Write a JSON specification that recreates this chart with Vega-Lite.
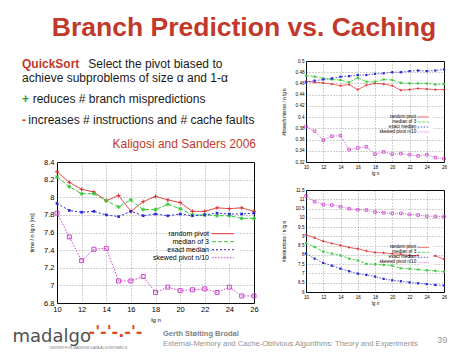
{
"$schema":"https://vega.github.io/schema/vega-lite/v6.json",
"padding":{"left":12,"top":15,"right":2,"bottom":2},
"background":"white",
"title":{"text":"Branch Prediction vs. Caching","anchor":"middle","font":"Liberation Sans","fontSize":26.5,"fontWeight":"bold","color":"#c0392b","offset":16,"dx":14},
"datasets":{
"txt":[
{"line":1,"k":"head","t":"QuickSort"},
{"line":1,"k":"b1","t":"Select the pivot biased to"},
{"line":2,"k":"b2","t":"achieve subproblems of size α and 1-α"},
{"line":3,"k":"plus","t":"+"},
{"line":3,"k":"b3","t":"reduces # branch mispredictions"},
{"line":4,"k":"minus","t":"-"},
{"line":4,"k":"b4","t":"increases # instructions and # cache faults"},
{"line":5,"k":"ref","t":"Kaligosi and Sanders 2006"}
],
"foot":[
{"k":"logo","t":"madalgo"},
{"k":"dash","t":"-'-'-.-'-"},
{"k":"small","t":"CENTER FOR MASSIVE DATA ALGORITHMICS"},
{"k":"name","t":"Gerth Stølting Brodal"},
{"k":"course","t":"External-Memory and Cache-Oblivious Algorithms: Theory and Experiments"},
{"k":"page","t":"39"}
],
"time":[
{"n":10,"s":"random pivot","v":8.29},{"n":11,"s":"random pivot","v":8.17},{"n":12,"s":"random pivot","v":8.09},{"n":13,"s":"random pivot","v":8.06},{"n":14,"s":"random pivot","v":7.96},{"n":15,"s":"random pivot","v":8.02},{"n":16,"s":"random pivot","v":7.84},{"n":17,"s":"random pivot","v":7.95},{"n":18,"s":"random pivot","v":8.01},{"n":19,"s":"random pivot","v":7.97},{"n":20,"s":"random pivot","v":7.94},{"n":21,"s":"random pivot","v":7.84},{"n":22,"s":"random pivot","v":7.84},{"n":23,"s":"random pivot","v":7.88},{"n":24,"s":"random pivot","v":7.87},{"n":25,"s":"random pivot","v":7.88},{"n":26,"s":"random pivot","v":7.84},
{"n":10,"s":"median of 3","v":8.23},{"n":11,"s":"median of 3","v":8.12},{"n":12,"s":"median of 3","v":8.04},{"n":13,"s":"median of 3","v":8.04},{"n":14,"s":"median of 3","v":7.96},{"n":15,"s":"median of 3","v":7.89},{"n":16,"s":"median of 3","v":7.97},{"n":17,"s":"median of 3","v":7.86},{"n":18,"s":"median of 3","v":7.86},{"n":19,"s":"median of 3","v":7.92},{"n":20,"s":"median of 3","v":7.87},{"n":21,"s":"median of 3","v":7.80},{"n":22,"s":"median of 3","v":7.80},{"n":23,"s":"median of 3","v":7.79},{"n":24,"s":"median of 3","v":7.79},{"n":25,"s":"median of 3","v":7.76},{"n":26,"s":"median of 3","v":7.76},
{"n":10,"s":"exact median","v":7.93},{"n":11,"s":"exact median","v":7.85},{"n":12,"s":"exact median","v":7.83},{"n":13,"s":"exact median","v":7.84},{"n":14,"s":"exact median","v":7.80},{"n":15,"s":"exact median","v":7.78},{"n":16,"s":"exact median","v":7.84},{"n":17,"s":"exact median","v":7.79},{"n":18,"s":"exact median","v":7.81},{"n":19,"s":"exact median","v":7.79},{"n":20,"s":"exact median","v":7.81},{"n":21,"s":"exact median","v":7.79},{"n":22,"s":"exact median","v":7.80},{"n":23,"s":"exact median","v":7.82},{"n":24,"s":"exact median","v":7.81},{"n":25,"s":"exact median","v":7.81},{"n":26,"s":"exact median","v":7.82},
{"n":10,"s":"skewed pivot n/10","v":7.82},{"n":11,"s":"skewed pivot n/10","v":7.55},{"n":12,"s":"skewed pivot n/10","v":7.28},{"n":13,"s":"skewed pivot n/10","v":7.41},{"n":14,"s":"skewed pivot n/10","v":7.42},{"n":15,"s":"skewed pivot n/10","v":7.05},{"n":16,"s":"skewed pivot n/10","v":7.05},{"n":17,"s":"skewed pivot n/10","v":7.10},{"n":18,"s":"skewed pivot n/10","v":6.92},{"n":19,"s":"skewed pivot n/10","v":6.98},{"n":20,"s":"skewed pivot n/10","v":6.94},{"n":21,"s":"skewed pivot n/10","v":6.95},{"n":22,"s":"skewed pivot n/10","v":6.96},{"n":23,"s":"skewed pivot n/10","v":6.92},{"n":24,"s":"skewed pivot n/10","v":6.98},{"n":25,"s":"skewed pivot n/10","v":6.88},{"n":26,"s":"skewed pivot n/10","v":6.88}
],
"branch":[
{"n":10,"s":"random pivot","v":0.464},{"n":11,"s":"random pivot","v":0.462},{"n":12,"s":"random pivot","v":0.461},{"n":13,"s":"random pivot","v":0.459},{"n":14,"s":"random pivot","v":0.456},{"n":15,"s":"random pivot","v":0.458},{"n":16,"s":"random pivot","v":0.449},{"n":17,"s":"random pivot","v":0.457},{"n":18,"s":"random pivot","v":0.460},{"n":19,"s":"random pivot","v":0.459},{"n":20,"s":"random pivot","v":0.456},{"n":21,"s":"random pivot","v":0.448},{"n":22,"s":"random pivot","v":0.449},{"n":23,"s":"random pivot","v":0.451},{"n":24,"s":"random pivot","v":0.450},{"n":25,"s":"random pivot","v":0.449},{"n":26,"s":"random pivot","v":0.449},
{"n":10,"s":"median of 3","v":0.474},{"n":11,"s":"median of 3","v":0.472},{"n":12,"s":"median of 3","v":0.469},{"n":13,"s":"median of 3","v":0.467},{"n":14,"s":"median of 3","v":0.466},{"n":15,"s":"median of 3","v":0.462},{"n":16,"s":"median of 3","v":0.470},{"n":17,"s":"median of 3","v":0.463},{"n":18,"s":"median of 3","v":0.463},{"n":19,"s":"median of 3","v":0.467},{"n":20,"s":"median of 3","v":0.466},{"n":21,"s":"median of 3","v":0.461},{"n":22,"s":"median of 3","v":0.460},{"n":23,"s":"median of 3","v":0.460},{"n":24,"s":"median of 3","v":0.460},{"n":25,"s":"median of 3","v":0.458},{"n":26,"s":"median of 3","v":0.459},
{"n":10,"s":"exact median","v":0.462},{"n":11,"s":"exact median","v":0.465},{"n":12,"s":"exact median","v":0.467},{"n":13,"s":"exact median","v":0.469},{"n":14,"s":"exact median","v":0.472},{"n":15,"s":"exact median","v":0.473},{"n":16,"s":"exact median","v":0.475},{"n":17,"s":"exact median","v":0.475},{"n":18,"s":"exact median","v":0.477},{"n":19,"s":"exact median","v":0.478},{"n":20,"s":"exact median","v":0.480},{"n":21,"s":"exact median","v":0.480},{"n":22,"s":"exact median","v":0.482},{"n":23,"s":"exact median","v":0.483},{"n":24,"s":"exact median","v":0.482},{"n":25,"s":"exact median","v":0.483},{"n":26,"s":"exact median","v":0.485},
{"n":10,"s":"skewed pivot n/10","v":0.383},{"n":11,"s":"skewed pivot n/10","v":0.375},{"n":12,"s":"skewed pivot n/10","v":0.359},{"n":13,"s":"skewed pivot n/10","v":0.366},{"n":14,"s":"skewed pivot n/10","v":0.367},{"n":15,"s":"skewed pivot n/10","v":0.342},{"n":16,"s":"skewed pivot n/10","v":0.345},{"n":17,"s":"skewed pivot n/10","v":0.347},{"n":18,"s":"skewed pivot n/10","v":0.334},{"n":19,"s":"skewed pivot n/10","v":0.338},{"n":20,"s":"skewed pivot n/10","v":0.334},{"n":21,"s":"skewed pivot n/10","v":0.335},{"n":22,"s":"skewed pivot n/10","v":0.333},{"n":23,"s":"skewed pivot n/10","v":0.331},{"n":24,"s":"skewed pivot n/10","v":0.333},{"n":25,"s":"skewed pivot n/10","v":0.328},{"n":26,"s":"skewed pivot n/10","v":0.326}
],
"instr":[
{"n":10,"s":"random pivot","v":9.08},{"n":11,"s":"random pivot","v":8.92},{"n":12,"s":"random pivot","v":8.74},{"n":13,"s":"random pivot","v":8.62},{"n":14,"s":"random pivot","v":8.51},{"n":15,"s":"random pivot","v":8.40},{"n":16,"s":"random pivot","v":8.33},{"n":17,"s":"random pivot","v":8.22},{"n":18,"s":"random pivot","v":8.13},{"n":19,"s":"random pivot","v":8.11},{"n":20,"s":"random pivot","v":8.06},{"n":21,"s":"random pivot","v":8.04},{"n":22,"s":"random pivot","v":7.97},{"n":23,"s":"random pivot","v":7.97},{"n":24,"s":"random pivot","v":7.88},{"n":25,"s":"random pivot","v":7.95},{"n":26,"s":"random pivot","v":7.77},
{"n":10,"s":"median of 3","v":8.63},{"n":11,"s":"median of 3","v":8.43},{"n":12,"s":"median of 3","v":8.18},{"n":13,"s":"median of 3","v":8.07},{"n":14,"s":"median of 3","v":7.97},{"n":15,"s":"median of 3","v":7.80},{"n":16,"s":"median of 3","v":7.70},{"n":17,"s":"median of 3","v":7.52},{"n":18,"s":"median of 3","v":7.50},{"n":19,"s":"median of 3","v":7.46},{"n":20,"s":"median of 3","v":7.42},{"n":21,"s":"median of 3","v":7.28},{"n":22,"s":"median of 3","v":7.25},{"n":23,"s":"median of 3","v":7.21},{"n":24,"s":"median of 3","v":7.17},{"n":25,"s":"median of 3","v":7.14},{"n":26,"s":"median of 3","v":7.10},
{"n":10,"s":"exact median","v":8.07},{"n":11,"s":"exact median","v":7.80},{"n":12,"s":"exact median","v":7.57},{"n":13,"s":"exact median","v":7.42},{"n":14,"s":"exact median","v":7.26},{"n":15,"s":"exact median","v":7.12},{"n":16,"s":"exact median","v":6.99},{"n":17,"s":"exact median","v":6.92},{"n":18,"s":"exact median","v":6.83},{"n":19,"s":"exact median","v":6.71},{"n":20,"s":"exact median","v":6.63},{"n":21,"s":"exact median","v":6.58},{"n":22,"s":"exact median","v":6.52},{"n":23,"s":"exact median","v":6.47},{"n":24,"s":"exact median","v":6.43},{"n":25,"s":"exact median","v":6.38},{"n":26,"s":"exact median","v":6.35},
{"n":10,"s":"skewed pivot n/10","v":11.18},{"n":11,"s":"skewed pivot n/10","v":10.87},{"n":12,"s":"skewed pivot n/10","v":10.71},{"n":13,"s":"skewed pivot n/10","v":10.69},{"n":14,"s":"skewed pivot n/10","v":10.60},{"n":15,"s":"skewed pivot n/10","v":10.49},{"n":16,"s":"skewed pivot n/10","v":10.44},{"n":17,"s":"skewed pivot n/10","v":10.42},{"n":18,"s":"skewed pivot n/10","v":10.31},{"n":19,"s":"skewed pivot n/10","v":10.27},{"n":20,"s":"skewed pivot n/10","v":10.24},{"n":21,"s":"skewed pivot n/10","v":10.24},{"n":22,"s":"skewed pivot n/10","v":10.18},{"n":23,"s":"skewed pivot n/10","v":10.15},{"n":24,"s":"skewed pivot n/10","v":10.09},{"n":25,"s":"skewed pivot n/10","v":10.08},{"n":26,"s":"skewed pivot n/10","v":10.06}
]
},
"spacing":249,
"bounds":"flush",
"resolve":{"scale":{"color":"independent","strokeDash":"independent","shape":"independent","size":"independent"},"legend":{"color":"independent","strokeDash":"independent"}},
"hconcat":[
 {"vconcat":[
  {"width":197,"height":101,
   "layer":[
    {"data":{"name":"txt"},
     "encoding":{"y":{"field":"line","type":"quantitative","scale":{"domain":[1.0896,5.8538],"reverse":true,"nice":false,"zero":false},"axis":null},"text":{"field":"t"}},
     "layer":[
      {"transform":[{"filter":"datum.k==='head'"}],"mark":{"type":"text","align":"left","dx":-133.5,"dy":4.5,"font":"Liberation Sans","fontSize":12,"fontWeight":"bold","color":"#c0392b"}},
      {"transform":[{"filter":"datum.k==='b1'"}],"mark":{"type":"text","align":"left","dx":-67.2,"dy":4.5,"font":"Liberation Sans","fontSize":12,"color":"#1a1a1a"}},
      {"transform":[{"filter":"datum.k==='b2'"}],"mark":{"type":"text","align":"left","dx":-133.5,"dy":-2.5,"font":"Liberation Sans","fontSize":12,"color":"#1a1a1a"}},
      {"transform":[{"filter":"datum.k==='plus'"}],"mark":{"type":"text","align":"left","dx":-133.5,"dy":-2.5,"font":"Liberation Sans","fontSize":12,"fontWeight":"bold","color":"#2e9a3a"}},
      {"transform":[{"filter":"datum.k==='b3'"}],"mark":{"type":"text","align":"left","dx":-122.8,"dy":-2.5,"font":"Liberation Sans","fontSize":12,"color":"#1a1a1a"}},
      {"transform":[{"filter":"datum.k==='minus'"}],"mark":{"type":"text","align":"left","dx":-133.5,"dy":-2.5,"font":"Liberation Sans","fontSize":12,"fontWeight":"bold","color":"#c0392b"}},
      {"transform":[{"filter":"datum.k==='b4'"}],"mark":{"type":"text","align":"left","dx":-127.2,"dy":-2.5,"font":"Liberation Sans","fontSize":12,"color":"#1a1a1a"}},
      {"transform":[{"filter":"datum.k==='ref'"}],"mark":{"type":"text","align":"right","dx":100.5,"dy":0,"font":"Liberation Sans","fontSize":12,"color":"#c0392b"}}
     ]},
    {"data":{"name":"foot"},
     "encoding":{"text":{"field":"t"}},
     "layer":[
      {"transform":[{"filter":"datum.k==='logo'"}],"mark":{"type":"text","align":"left","dx":-143,"dy":225.5,"font":"DejaVu Sans","fontSize":18,"color":"#505050"}},
      {"transform":[{"filter":"datum.k==='dash'"}],"mark":{"type":"text","align":"left","dx":-67,"dy":220.5,"font":"DejaVu Sans","fontSize":16,"fontWeight":"bold","color":"#e04a1a"}},
      {"transform":[{"filter":"datum.k==='small'"}],"mark":{"type":"text","align":"left","dx":-106.5,"dy":236,"font":"Liberation Sans","fontSize":3.6,"color":"#777"}},
      {"transform":[{"filter":"datum.k==='name'"}],"mark":{"type":"text","align":"left","dx":7.5,"dy":222.5,"font":"Liberation Sans","fontSize":7.5,"fontWeight":"bold","color":"#808080"}},
      {"transform":[{"filter":"datum.k==='course'"}],"mark":{"type":"text","align":"left","dx":7.5,"dy":232,"font":"Liberation Sans","fontSize":7.6,"color":"#909090"}},
      {"transform":[{"filter":"datum.k==='page'"}],"mark":{"type":"text","align":"left","dx":281.5,"dy":228,"font":"Liberation Sans","fontSize":9.5,"color":"#999"}}
     ]}
   ]},
  {"width":197,"height":141,"data":{"name":"time"},
   "view":{"stroke":"#000","strokeWidth":1},
   "encoding":{
    "x":{"field":"n","type":"quantitative","scale":{"domain":[10,26],"nice":false,"zero":false},"axis":{"values":[10,12,14,16,18,20,22,24,26],"title":"lg n","labelFontSize":7.5,"labelPadding":2.5,"titleFontSize":6,"titlePadding":3,"labelFlush":false}},
    "y":{"field":"v","type":"quantitative","scale":{"domain":[6.8,8.4],"nice":false,"zero":false},"axis":{"values":[6.8,7,7.2,7.4,7.6,7.8,8,8.2,8.4],"format":"~g","title":"time / n lg n [ns]","labelFontSize":7.5,"labelPadding":3,"titleFontSize":5.5,"titlePadding":9}}
   },
   "layer":[
    {"mark":{"type":"line","strokeWidth":1},
     "encoding":{
      "color":{"field":"s","type":"nominal","scale":{"domain":["random pivot","median of 3","exact median","skewed pivot n/10"],"range":["#dd3030","#38c838","#2828d8","#cc44cc"]},
        "legend":{"orient":"none","direction":"vertical","legendX":160.5,"legendY":66.2,"title":null,"labelAlign":"right","labelOffset":-17.5,"symbolType":"M-4.4,0H4.4","symbolSize":25,"symbolStrokeWidth":1,"rowPadding":0,"labelFontSize":7,"labelFont":"Liberation Sans","labelColor":"#000","fillColor":"#fff","padding":2}},
      "strokeDash":{"field":"s","type":"nominal","scale":{"domain":["random pivot","median of 3","exact median","skewed pivot n/10"],"range":[[1,0],[4,2],[2,2],[1.5,1.5]]},
        "legend":{"orient":"none","direction":"vertical","legendX":160.5,"legendY":66.2,"title":null,"labelAlign":"right","labelOffset":-17.5,"symbolType":"M-4.4,0H4.4","symbolSize":25,"symbolStrokeWidth":1,"rowPadding":0,"labelFontSize":7,"labelFont":"Liberation Sans","labelColor":"#000","fillColor":"#fff","padding":2}}
     }},
    {"transform":[{"filter":"datum.s!=='exact median'"}],
     "mark":{"type":"point","filled":false,"strokeWidth":1,"opacity":1},
     "encoding":{
      "color":{"field":"s","type":"nominal","legend":null},
      "shape":{"field":"s","type":"nominal","scale":{"domain":["random pivot","median of 3","skewed pivot n/10"],"range":["M-1,0L1,0M0,-1L0,1","M-1,0L1,0M0,-1L0,1M-0.7,-0.7L0.7,0.7M-0.7,0.7L0.7,-0.7","square"]},"legend":null},
      "size":{"field":"s","type":"nominal","scale":{"domain":["random pivot","median of 3","skewed pivot n/10"],"range":[16,16,25]},"legend":null}
     }},
    {"transform":[{"filter":"datum.s==='exact median'"}],
     "mark":{"type":"point","filled":true,"shape":"square","size":7,"opacity":1},
     "encoding":{"color":{"field":"s","type":"nominal","legend":null}}}
   ]}
 ],"spacing":0,"bounds":"flush",
 "resolve":{"scale":{"color":"independent","strokeDash":"independent","shape":"independent","size":"independent"},"legend":{"color":"independent","strokeDash":"independent"}}},
 {"vconcat":[
  {"width":138,"height":101,"data":{"name":"branch"},
   "view":{"stroke":"#000","strokeWidth":1},
   "encoding":{
    "x":{"field":"n","type":"quantitative","scale":{"domain":[10,26],"nice":false,"zero":false},"axis":{"values":[10,12,14,16,18,20,22,24,26],"title":"lg n","labelFontSize":4.6,"labelPadding":2,"titleFontSize":4.6,"titlePadding":2,"labelFlush":false}},
    "y":{"field":"v","type":"quantitative","scale":{"domain":[0.32,0.5],"nice":false,"zero":false},"axis":{"values":[0.32,0.34,0.36,0.38,0.4,0.42,0.44,0.46,0.48,0.5],"format":"~g","title":"#branch misses / n lg n","labelFontSize":4.6,"labelPadding":2,"titleFontSize":4.6,"titlePadding":9}}
   },
   "layer":[
    {"mark":{"type":"line","strokeWidth":0.8},
     "encoding":{
      "color":{"field":"s","type":"nominal","scale":{"domain":["random pivot","median of 3","exact median","skewed pivot n/10"],"range":["#dd3030","#38c838","#2828d8","#cc44cc"]},
        "legend":{"orient":"none","direction":"vertical","legendX":113.1,"legendY":51.7,"title":null,"labelAlign":"right","labelOffset":-9.5,"symbolType":"M-4.16,0H4.16","symbolSize":7.5,"symbolStrokeWidth":0.8,"rowPadding":0,"labelFontSize":4.6,"labelFont":"Liberation Sans","labelColor":"#000","fillColor":"#fff","padding":2}},
      "strokeDash":{"field":"s","type":"nominal","scale":{"domain":["random pivot","median of 3","exact median","skewed pivot n/10"],"range":[[1,0],[3,1.5],[1.5,1.5],[1,1]]},
        "legend":{"orient":"none","direction":"vertical","legendX":113.1,"legendY":51.7,"title":null,"labelAlign":"right","labelOffset":-9.5,"symbolType":"M-4.16,0H4.16","symbolSize":7.5,"symbolStrokeWidth":0.8,"rowPadding":0,"labelFontSize":4.6,"labelFont":"Liberation Sans","labelColor":"#000","fillColor":"#fff","padding":2}}
     }},
    {"transform":[{"filter":"datum.s!=='exact median'"}],
     "mark":{"type":"point","filled":false,"strokeWidth":0.8,"opacity":1},
     "encoding":{
      "color":{"field":"s","type":"nominal","legend":null},
      "shape":{"field":"s","type":"nominal","scale":{"domain":["random pivot","median of 3","skewed pivot n/10"],"range":["M-1,0L1,0M0,-1L0,1","M-1,0L1,0M0,-1L0,1M-0.7,-0.7L0.7,0.7M-0.7,0.7L0.7,-0.7","square"]},"legend":null},
      "size":{"field":"s","type":"nominal","scale":{"domain":["random pivot","median of 3","skewed pivot n/10"],"range":[7,7,12]},"legend":null}
     }},
    {"transform":[{"filter":"datum.s==='exact median'"}],
     "mark":{"type":"point","filled":true,"shape":"square","size":5,"opacity":1},
     "encoding":{"color":{"field":"s","type":"nominal","legend":null}}}
   ]},
  {"width":138,"height":102,"data":{"name":"instr"},
   "view":{"stroke":"#000","strokeWidth":1},
   "encoding":{
    "x":{"field":"n","type":"quantitative","scale":{"domain":[10,26],"nice":false,"zero":false},"axis":{"values":[10,12,14,16,18,20,22,24,26],"title":"lg n","labelFontSize":4.6,"labelPadding":2,"titleFontSize":4.6,"titlePadding":2,"labelFlush":false}},
    "y":{"field":"v","type":"quantitative","scale":{"domain":[6,11.5],"nice":false,"zero":false},"axis":{"values":[6,6.5,7,7.5,8,8.5,9,9.5,10,10.5,11,11.5],"format":"~g","title":"#instructions / n lg n","labelFontSize":4.6,"labelPadding":2,"titleFontSize":4.6,"titlePadding":9}}
   },
   "layer":[
    {"mark":{"type":"line","strokeWidth":0.8},
     "encoding":{
      "color":{"field":"s","type":"nominal","scale":{"domain":["random pivot","median of 3","exact median","skewed pivot n/10"],"range":["#dd3030","#38c838","#2828d8","#cc44cc"]},
        "legend":{"orient":"none","direction":"vertical","legendX":113.1,"legendY":53,"title":null,"labelAlign":"right","labelOffset":-9.5,"symbolType":"M-4.16,0H4.16","symbolSize":7.5,"symbolStrokeWidth":0.8,"rowPadding":0,"labelFontSize":4.6,"labelFont":"Liberation Sans","labelColor":"#000","fillColor":"#fff","padding":2}},
      "strokeDash":{"field":"s","type":"nominal","scale":{"domain":["random pivot","median of 3","exact median","skewed pivot n/10"],"range":[[1,0],[3,1.5],[1.5,1.5],[1,1]]},
        "legend":{"orient":"none","direction":"vertical","legendX":113.1,"legendY":53,"title":null,"labelAlign":"right","labelOffset":-9.5,"symbolType":"M-4.16,0H4.16","symbolSize":7.5,"symbolStrokeWidth":0.8,"rowPadding":0,"labelFontSize":4.6,"labelFont":"Liberation Sans","labelColor":"#000","fillColor":"#fff","padding":2}}
     }},
    {"transform":[{"filter":"datum.s!=='exact median'"}],
     "mark":{"type":"point","filled":false,"strokeWidth":0.8,"opacity":1},
     "encoding":{
      "color":{"field":"s","type":"nominal","legend":null},
      "shape":{"field":"s","type":"nominal","scale":{"domain":["random pivot","median of 3","skewed pivot n/10"],"range":["M-1,0L1,0M0,-1L0,1","M-1,0L1,0M0,-1L0,1M-0.7,-0.7L0.7,0.7M-0.7,0.7L0.7,-0.7","square"]},"legend":null},
      "size":{"field":"s","type":"nominal","scale":{"domain":["random pivot","median of 3","skewed pivot n/10"],"range":[7,7,12]},"legend":null}
     }},
    {"transform":[{"filter":"datum.s==='exact median'"}],
     "mark":{"type":"point","filled":true,"shape":"square","size":5,"opacity":1},
     "encoding":{"color":{"field":"s","type":"nominal","legend":null}}}
   ]}
 ],"spacing":28,"bounds":"flush",
 "resolve":{"scale":{"color":"independent","strokeDash":"independent","shape":"independent","size":"independent"},"legend":{"color":"independent","strokeDash":"independent"}}}
],
"config":{
 "view":{"stroke":null},
 "font":"Liberation Sans",
 "axis":{"ticks":false,"domain":false,"grid":true,"gridColor":"#444","gridDash":[1,2],"gridWidth":0.5,"labelColor":"#000","titleColor":"#000","titleFontWeight":"normal","labelFont":"Liberation Sans","titleFont":"Liberation Sans","labelOverlap":false}
}
}
